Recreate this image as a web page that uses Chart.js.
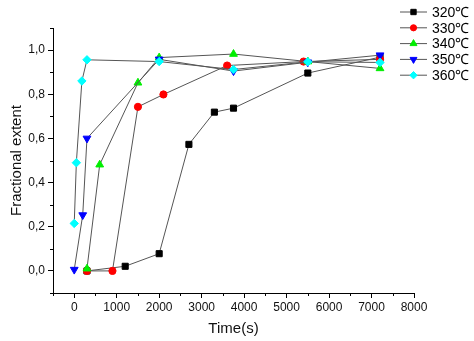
<!DOCTYPE html>
<html>
<head>
<meta charset="utf-8">
<script src="https://cdn.jsdelivr.net/npm/chart.js@4"></script>
<style>
  html, body { margin: 0; padding: 0; background: #fff; }
  #wrap { width: 474px; height: 341px; position: relative; }
</style>
</head>
<body>
<div id="wrap"><canvas id="myChart"></canvas></div>
<script>
// series labels
let labels = ['320℃', '330℃', '340℃', '350℃', '360℃']

// time (s) and fractional extent
let t320 = [300, 1200, 2000, 2700, 3300, 3750, 5500, 7200]
let f320 = [0.0, 0.021, 0.078, 0.573, 0.719, 0.737, 0.896, 0.968]
let t330 = [300, 900, 1500, 2100, 3600, 5400, 7200]
let f330 = [0.0, 0.0, 0.743, 0.799, 0.93, 0.948, 0.958]
let t340 = [300, 600, 1500, 2000, 3750, 5500, 7200]
let f340 = [0.01, 0.481, 0.852, 0.966, 0.982, 0.948, 0.917]
let t350 = [0, 200, 300, 2000, 3750, 5500, 7200]
let f350 = [0.006, 0.253, 0.6, 0.958, 0.905, 0.945, 0.977]
let t360 = [0, 50, 180, 300, 2000, 3750, 5500, 7200]
let f360 = [0.215, 0.49, 0.86, 0.956, 0.948, 0.912, 0.947, 0.944]

// axis ticks
let xTicks = [0, 1000, 2000, 3000, 4000, 5000, 6000, 7000, 8000]
let yTicks = [0, 0.2, 0.4, 0.6, 0.8, 1.0]

let cores = ['#000000', '#ff0000', '#00ee00', '#0000ff', '#00ffff']
let estilos = ['rect', 'circle', 'triangle', 'triangle', 'rectRot']
let rotacoes = [0, 0, 0, 180, 0]
let raios = [4.3, 3.6, 4.5, 4.5, 4.2]
let corLinha = '#555555'

function pares(t, f) {
    return t.map((v, i) => ({ x: v, y: f[i] }))
}
let series = [pares(t320, f320), pares(t330, f330), pares(t340, f340), pares(t350, f350), pares(t360, f360)]

let fonte = 'Arial, "Liberation Sans", sans-serif'

// minor ticks and legend with line + marker
const extras = {
    id: 'extras',
    afterDraw(chart) {
        const c = chart.ctx
        const xs = chart.scales.x
        const ys = chart.scales.y
        c.save()
        c.strokeStyle = '#000'
        c.lineWidth = 1
        c.beginPath()
        for (let v = -500; v <= 7500; v += 1000) {
            let px = Math.round(xs.getPixelForValue(v)) + 0.5
            c.moveTo(px, ys.bottom)
            c.lineTo(px, ys.bottom + 3)
        }
        for (let k = -1; k <= 11; k += 2) {
            let py = Math.round(ys.getPixelForValue(k / 10)) + 0.5
            c.moveTo(xs.left, py)
            c.lineTo(xs.left - 3, py)
        }
        c.stroke()

        // legend
        for (let i = 0; i < labels.length; i++) {
            let y = 12 + i * 15.8
            c.strokeStyle = corLinha
            c.beginPath()
            c.moveTo(400, y)
            c.lineTo(427, y)
            c.stroke()
            c.fillStyle = cores[i]
            c.strokeStyle = cores[i]
            Chart.helpers.drawPoint(c, {
                pointStyle: estilos[i],
                radius: raios[i] - 0.5,
                rotation: rotacoes[i],
                borderWidth: 1
            }, 413.5, y)
            c.fillStyle = '#000'
            c.font = '14px ' + fonte
            c.textBaseline = 'middle'
            c.textAlign = 'left'
            c.fillText(labels[i], 432, y + 1)
        }
        c.restore()
    }
}

const ctx = document.getElementById('myChart').getContext('2d')
let myChart = new Chart(ctx, {
    type: 'line',
    data: {
        datasets: series.map((d, i) => ({
            label: labels[i],
            data: d,
            borderColor: corLinha,
            borderWidth: 1,
            backgroundColor: cores[i],
            pointBackgroundColor: cores[i],
            pointBorderColor: cores[i],
            pointStyle: estilos[i],
            pointRotation: rotacoes[i],
            pointRadius: raios[i],
            pointBorderWidth: 1,
            fill: false,
            tension: 0,
            order: 5 - i
        }))
    },
    options: {
        responsive: true,
        maintainAspectRatio: false,
        animation: false,
        layout: { padding: { left: 0, top: 28, right: 60, bottom: 0 } },
        plugins: {
            legend: { display: false },
            tooltip: { enabled: false }
        },
        scales: {
            x: {
                type: 'linear',
                min: -500,
                max: 8000,
                afterBuildTicks: s => { s.ticks = xTicks.map(v => ({ value: v })) },
                afterFit: s => { s.height = 48 },
                grid: { display: true, drawOnChartArea: false, drawTicks: true, tickLength: 5, color: '#000' },
                border: { display: true, color: '#000', width: 1 },
                ticks: {
                    color: '#111',
                    font: { family: fonte, size: 12 },
                    padding: 2,
                    maxRotation: 0,
                    callback: v => String(v)
                },
                title: {
                    display: true,
                    text: 'Time(s)',
                    color: '#111',
                    font: { family: fonte, size: 15 },
                    padding: { top: 0, bottom: 3 }
                }
            },
            y: {
                type: 'linear',
                min: -0.1,
                max: 1.1,
                afterBuildTicks: s => { s.ticks = yTicks.map(v => ({ value: v })) },
                afterFit: s => { s.width = 53 },
                grid: { display: true, drawOnChartArea: false, drawTicks: true, tickLength: 5, color: '#000' },
                border: { display: true, color: '#000', width: 1 },
                ticks: {
                    color: '#111',
                    font: { family: fonte, size: 12 },
                    padding: 3,
                    callback: v => v.toFixed(1).replace('.', ',')
                },
                title: {
                    display: true,
                    text: 'Fractional extent',
                    color: '#111',
                    font: { family: fonte, size: 15 },
                    padding: { top: 8, bottom: 0 }
                }
            }
        }
    },
    plugins: [extras]
})
</script>
</body>
</html>
